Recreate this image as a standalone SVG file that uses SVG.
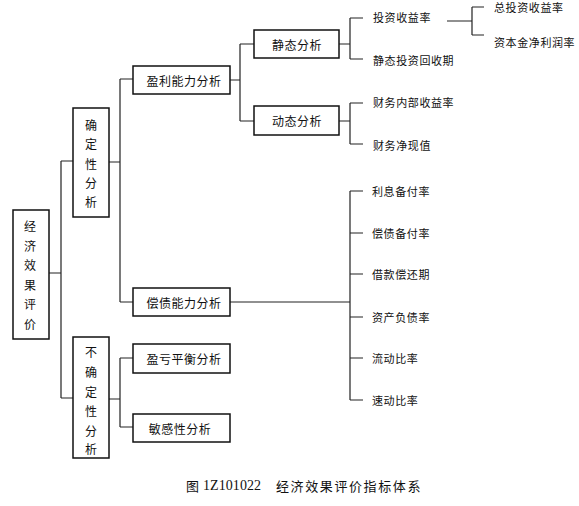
<svg xmlns="http://www.w3.org/2000/svg" width="579" height="506" viewBox="0 0 579 506">
<style>
  text { font-family: "Noto Sans CJK SC", "Noto Sans", sans-serif; fill: #111; dominant-baseline: central; }
  .box { fill: #fff; stroke: #111; stroke-width: 1.5; }
  .bl { font-size: 12px; text-anchor: middle; letter-spacing: 0.5px; }
  .vl { font-size: 12px; text-anchor: middle; }
  .lf { font-size: 11px; letter-spacing: 0.6px; }
  .cap { font-size: 13px; }
  .num { font-family: "Liberation Serif", "Noto Sans CJK SC", serif; font-size: 14px; }
  .ln { fill: none; stroke: #222; stroke-width: 1.2; }
</style>
<rect width="579" height="506" fill="#fff"/>

<g id="connectors">
  <path class="ln" d="M49 273H61M61 161V398M61 161H73M61 398H73"/>
  <path class="ln" d="M109 162H120M120 79V302M120 79H133M120 302H133"/>
  <path class="ln" d="M109 399H120M120 358V427M120 358H133M120 427H133"/>
  <path class="ln" d="M230 80H240M240 44V121M240 44H254M240 121H254"/>
  <path class="ln" d="M339 44H350M350 18V59M350 18H363M350 59H363"/>
  <path class="ln" d="M339 121H350M350 103V144M350 103H363M350 144H363"/>
  <path class="ln" d="M447 21H472M472 7V35M472 7H484M472 35H484"/>
  <path class="ln" d="M230 302H350M350 191V400M350 191H363M350 233H363M350 274H363M350 317H363M350 358H363M350 400H363"/>
</g>

<g id="root">
  <rect class="box" x="13" y="210" width="36" height="129"/>
  <text class="vl" x="30" y="225">经</text>
  <text class="vl" x="30" y="245">济</text>
  <text class="vl" x="30" y="264">效</text>
  <text class="vl" x="30" y="284">果</text>
  <text class="vl" x="30" y="303">评</text>
  <text class="vl" x="30" y="323">价</text>
</g>

<g id="certain">
  <rect class="box" x="73" y="108" width="36" height="109"/>
  <text class="vl" x="91" y="124">确</text>
  <text class="vl" x="91" y="143">定</text>
  <text class="vl" x="91" y="163">性</text>
  <text class="vl" x="91" y="182">分</text>
  <text class="vl" x="91" y="201">析</text>
</g>

<g id="uncertain">
  <rect class="box" x="73" y="337" width="36" height="121"/>
  <text class="vl" x="91" y="351">不</text>
  <text class="vl" x="91" y="371">确</text>
  <text class="vl" x="91" y="391">定</text>
  <text class="vl" x="91" y="410">性</text>
  <text class="vl" x="91" y="430">分</text>
  <text class="vl" x="91" y="448">析</text>
</g>

<g id="profit">
  <rect class="box" x="133" y="66" width="97" height="28"/>
  <text class="bl" x="184" y="80">盈利能力分析</text>
</g>
<g id="repay">
  <rect class="box" x="133" y="288" width="97" height="28"/>
  <text class="bl" x="184" y="302">偿债能力分析</text>
</g>
<g id="breakeven">
  <rect class="box" x="133" y="344" width="97" height="29"/>
  <text class="bl" x="184" y="358">盈亏平衡分析</text>
</g>
<g id="sensitivity">
  <rect class="box" x="133" y="414" width="97" height="28"/>
  <text class="bl" x="180" y="428">敏感性分析</text>
</g>
<g id="static">
  <rect class="box" x="254" y="30" width="85" height="28"/>
  <text class="bl" x="297" y="44">静态分析</text>
</g>
<g id="dynamic">
  <rect class="box" x="254" y="106" width="85" height="29"/>
  <text class="bl" x="297" y="120">动态分析</text>
</g>

<g id="leaves">
  <text class="lf" x="373" y="17">投资收益率</text>
  <text class="lf" x="373" y="60">静态投资回收期</text>
  <text class="lf" x="494" y="7">总投资收益率</text>
  <text class="lf" x="494" y="42">资本金净利润率</text>
  <text class="lf" x="373" y="102">财务内部收益率</text>
  <text class="lf" x="373" y="145">财务净现值</text>
  <text class="lf" x="372" y="191">利息备付率</text>
  <text class="lf" x="372" y="233">偿债备付率</text>
  <text class="lf" x="372" y="274">借款偿还期</text>
  <text class="lf" x="372" y="317">资产负债率</text>
  <text class="lf" x="372" y="358">流动比率</text>
  <text class="lf" x="372" y="400">速动比率</text>
</g>

<g id="caption">
  <text class="cap" x="186" y="485">图</text>
  <text class="num" x="203" y="485" textLength="58" lengthAdjust="spacing">1Z101022</text>
  <text class="cap" x="276" y="485" letter-spacing="1.6">经济效果评价指标体系</text>
</g>
</svg>
